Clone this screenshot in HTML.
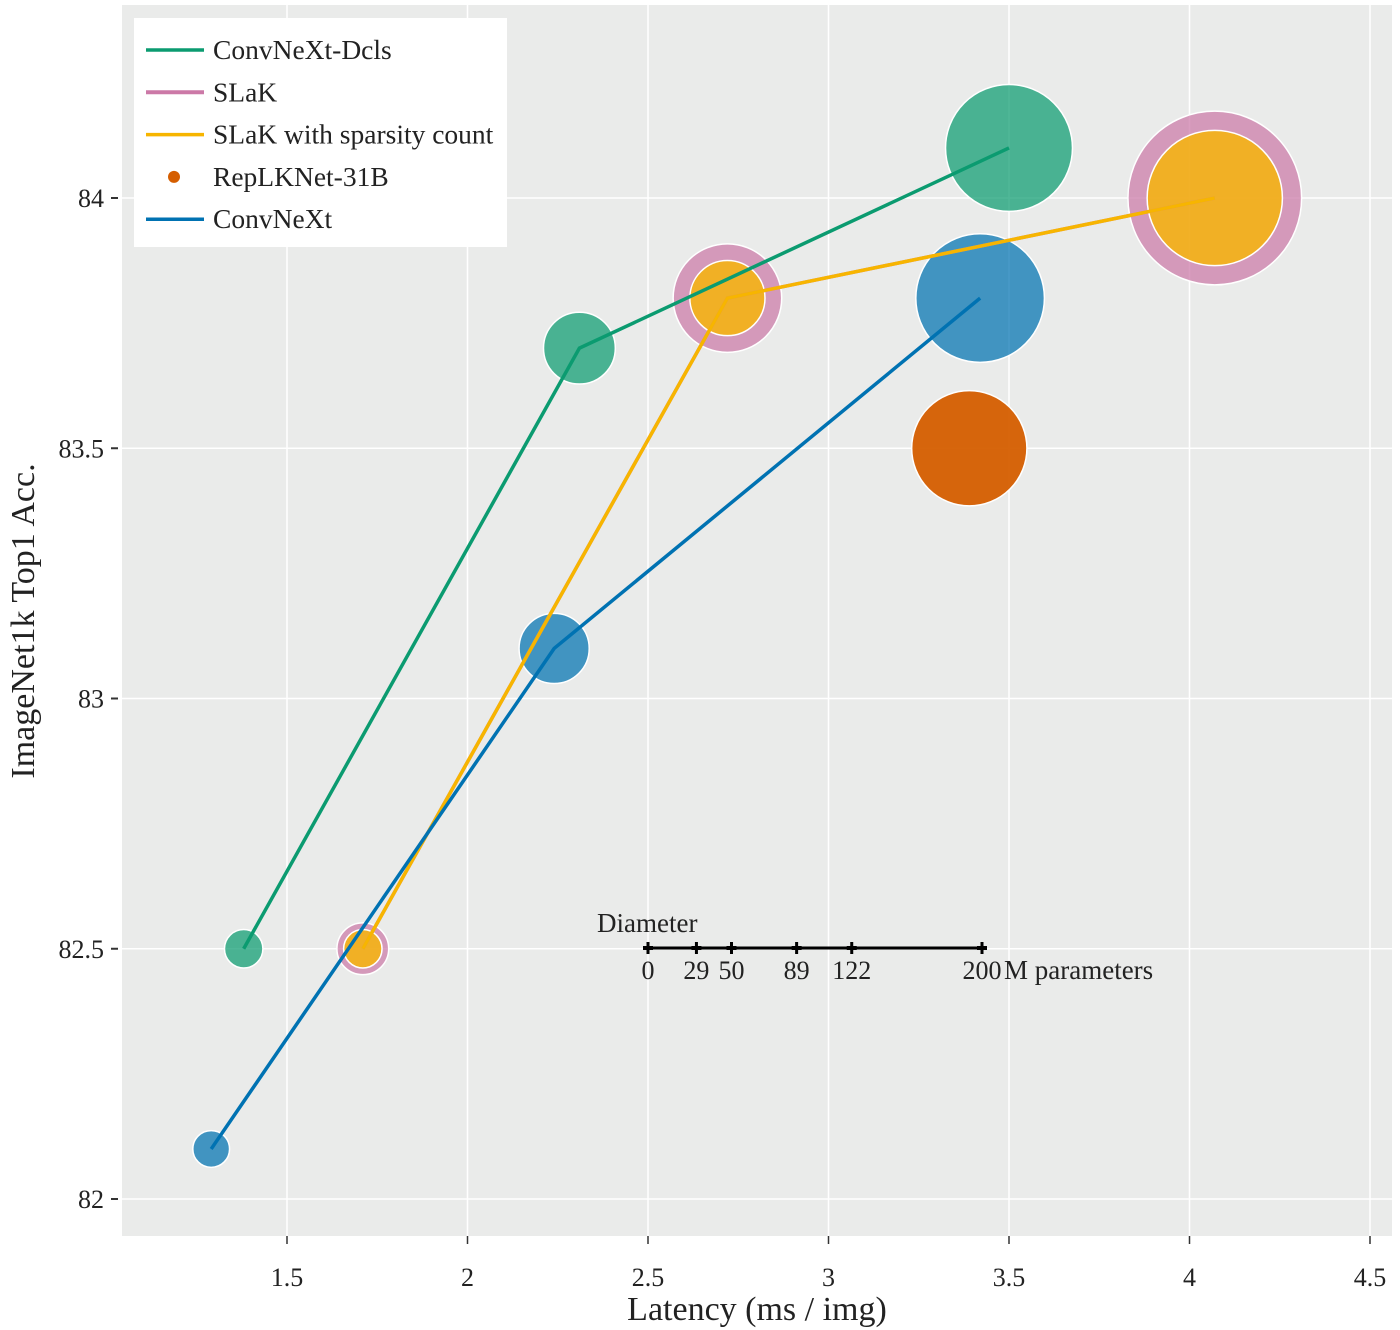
<!DOCTYPE html>
<html><head><meta charset="utf-8"><style>
html,body{margin:0;padding:0;background:#fff;}
svg{display:block;font-family:"Liberation Serif",serif;}
</style></head><body>
<svg id="chart" width="1400" height="1330" viewBox="0 0 1400 1330"></svg>
<script>
const xTicks=[1.5,2,2.5,3,3.5,4,4.5];
const xTickLabels=["1.5","2","2.5","3","3.5","4","4.5"];
const yTicks=[82,82.5,83,83.5,84];
const yTickLabels=["82","82.5","83","83.5","84"];
const dclsX=[1.38,2.31,3.5], dclsY=[82.5,83.7,84.1], dclsP=[23,43,76];
const slakX=[1.71,2.72,4.07], slakY=[82.5,83.8,84.0], slakP=[31,65,104];
const spX=[1.71,2.72,4.07], spY=[82.5,83.8,84.0], spP=[23,45,81];
const repX=[3.39], repY=[83.5], repP=[69];
const cnX=[1.29,2.24,3.42], cnY=[82.1,83.1,83.8], cnP=[22,42,77];
const scaleTicks=[0,29,50,89,122,200];

const svg=document.getElementById('chart');
const NS='http://www.w3.org/2000/svg';
const X0=122,X1=1392,Y0=5,Y1=1236;
function xs(v){return 287+(v-1.5)*361;}
function ys(v){return 198+(84-v)*500.5;}
function rs(p){return p*334/200/2;}
function mk(tag,attrs,parent){const e=document.createElementNS(NS,tag);for(const k in attrs)e.setAttribute(k,attrs[k]);(parent||svg).appendChild(e);return e;}

const bg=mk('rect',{x:X0,y:Y0,width:X1-X0,height:Y1-Y0,fill:'#eaebea'});



xTicks.forEach((t,i)=>{
  const g=mk('line',{x1:xs(t),x2:xs(t),y1:Y0,y2:Y1,stroke:'#fff','stroke-width':1.5});
  
  
  mk('line',{x1:xs(t),x2:xs(t),y1:Y1,y2:Y1+8,stroke:'#333','stroke-width':1.5});
  const tx=mk('text',{x:xs(t),y:1286,'text-anchor':'middle','font-size':26,fill:'#222'});
  tx.textContent=xTickLabels[i];
  
  
});
yTicks.forEach((t,i)=>{
  const g=mk('line',{x1:X0,x2:X1,y1:ys(t),y2:ys(t),stroke:'#fff','stroke-width':1.5});
  
  
  mk('line',{x1:X0-11,x2:X0-4,y1:ys(t),y2:ys(t),stroke:'#333','stroke-width':2});
  const tx=mk('text',{x:104,y:ys(t)+9,'text-anchor':'end','font-size':26,fill:'#222'});
  tx.textContent=yTickLabels[i];
  
  
});

function bubbles(X,Y,P,color,name,op){
  X.forEach((x,i)=>{
    const c=mk('circle',{cx:xs(x),cy:ys(Y[i]),r:rs(P[i]),fill:color,'fill-opacity':op,stroke:'#fff','stroke-width':1.5});
    
    
  });
}
function line(X,Y,color,name){
  const d=X.map((x,i)=>(i?'L':'M')+xs(x)+','+ys(Y[i])).join(' ');
  const p=mk('path',{d:d,stroke:color,'stroke-width':3.5,fill:'none'});
  
  
}
const GREEN='#0b9b70',PINK='#cc79a7',YEL='#f7b500',ORG='#d55e00',BLUE='#0072b2';
bubbles(dclsX,dclsY,dclsP,GREEN,'convnext-dcls',0.72);
bubbles(slakX,slakY,slakP,PINK,'slak',0.72);
bubbles(spX,spY,spP,YEL,'slak-sparsity',0.8);
bubbles(repX,repY,repP,ORG,'replknet',0.95);
bubbles(cnX,cnY,cnP,BLUE,'convnext',0.72);
line(dclsX,dclsY,GREEN,'convnext-dcls');
line(slakX,slakY,PINK,'slak');
line(spX,spY,YEL,'slak-sparsity');
line(cnX,cnY,BLUE,'convnext');

const sx0=648, sy=948, slen=334;
function ss(v){return sx0+v/200*slen;}
const sl=mk('line',{x1:ss(0),x2:ss(200),y1:sy,y2:sy,stroke:'#000','stroke-width':3});


scaleTicks.forEach(v=>{
  mk('line',{x1:ss(v),x2:ss(v),y1:sy-6,y2:sy+6,stroke:'#000','stroke-width':3});
  mk('line',{x1:ss(v)-5,x2:ss(v)+5,y1:sy,y2:sy,stroke:'#000','stroke-width':4});
  const t=mk('text',{x:ss(v),y:979,'text-anchor':'middle','font-size':26,fill:'#222'});
  t.textContent=String(v);
  
  
});
const dt=mk('text',{x:597,y:932,'font-size':27,fill:'#222'});dt.textContent='Diameter';


const mp=mk('text',{x:1004,y:979,'font-size':27,fill:'#222'});mp.textContent='M parameters';



const lg=mk('rect',{x:134,y:18,width:373,height:229,fill:'#fff'});


const legNames=['ConvNeXt-Dcls','SLaK','SLaK with sparsity count','RepLKNet-31B','ConvNeXt'];
const legColors=[GREEN,PINK,YEL,ORG,BLUE];
legNames.forEach((n,i)=>{
  const y=50+i*42.3;
  if(i===3){mk('circle',{cx:174,cy:y,r:6,fill:ORG});}
  else mk('line',{x1:146,x2:204,y1:y,y2:y,stroke:legColors[i],'stroke-width':i===1?4:3.5});
  const t=mk('text',{x:213,y:y+9,'font-size':27.5,fill:'#222'});t.textContent=n;
  
  
});

const xt=mk('text',{x:757,y:1320,'text-anchor':'middle','font-size':34,fill:'#222'});xt.textContent='Latency (ms / img)';


const yt=mk('text',{x:0,y:0,'text-anchor':'middle','font-size':34,fill:'#222',transform:'translate(34,621) rotate(-90)'});yt.textContent='ImageNet1k Top1 Acc.';


</script>
</body></html>
